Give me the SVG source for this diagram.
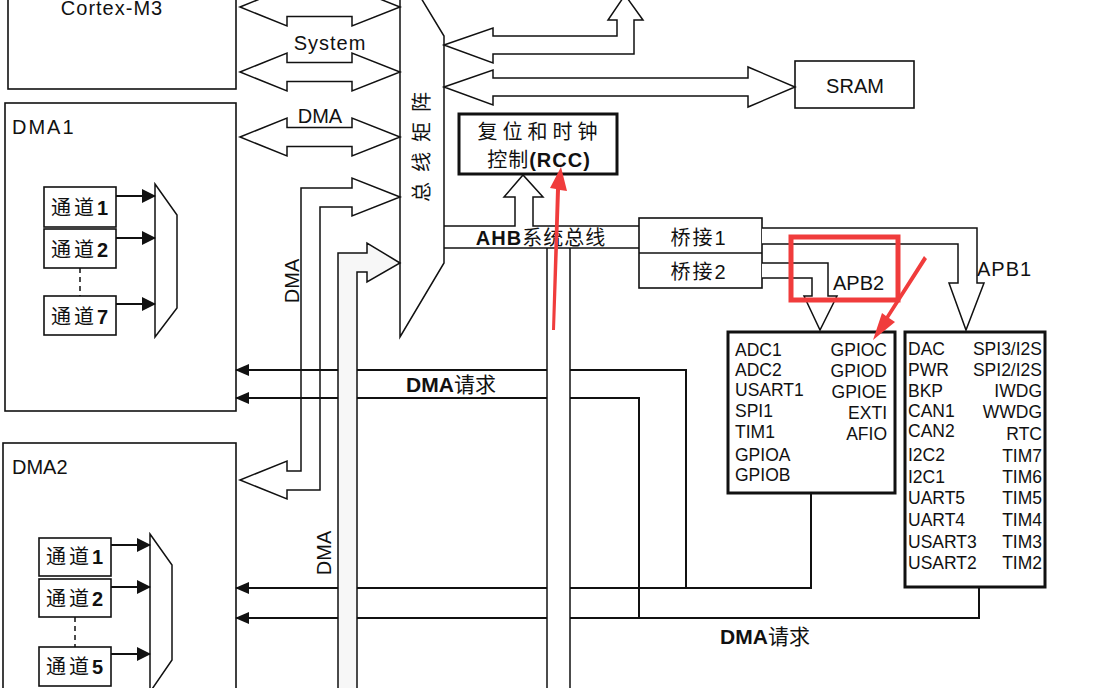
<svg xmlns="http://www.w3.org/2000/svg" width="1115" height="688" viewBox="0 0 1115 688">
<style>
text{font-family:"Liberation Sans","Noto Sans CJK SC",sans-serif;fill:#111}
.t16{font-size:17.5px}
.t17{font-size:20px}
.box{fill:#fff;stroke:#111;stroke-width:1.6}
.thick{fill:#fff;stroke:#111;stroke-width:3}
.w{fill:#fff;stroke:#111;stroke-width:1.5}
.ln{fill:none;stroke:#111;stroke-width:2}
.red{fill:#f03c3c}
</style>
<defs>
<marker id="ah" markerWidth="14" markerHeight="12" refX="13" refY="6" orient="auto" markerUnits="userSpaceOnUse"><path d="M0,0L14,6L0,12Z" fill="#111"/></marker>
<marker id="ch" markerWidth="14" markerHeight="14" refX="13" refY="7" orient="auto" markerUnits="userSpaceOnUse"><path d="M0,0L14,7L0,14Z" fill="#111"/></marker>
</defs>
<rect width="1115" height="688" fill="#fff"/>

<g id="cortex"><rect class="box" x="8" y="-2" width="228" height="91"/><text class="t17" x="112" y="15" text-anchor="middle" letter-spacing="1">Cortex-M3</text></g>

<g id="dma1"><rect class="box" x="5" y="103" width="231" height="308"/><text class="t17" x="12" y="134" letter-spacing="2">DMA1</text>
<rect class="box" x="44" y="187" width="72" height="40"/><text class="t17" x="81" y="215" text-anchor="middle" letter-spacing="3">通道<tspan font-weight="bold">1</tspan></text>
<rect class="box" x="44" y="229" width="72" height="39"/><text class="t17" x="81" y="257" text-anchor="middle" letter-spacing="3">通道<tspan font-weight="bold">2</tspan></text>
<rect class="box" x="44" y="296" width="72" height="39"/><text class="t17" x="81" y="324" text-anchor="middle" letter-spacing="3">通道<tspan font-weight="bold">7</tspan></text>
<line x1="80" y1="268" x2="80" y2="296" stroke="#111" stroke-width="1.5" stroke-dasharray="5,4"/>
<polygon class="w" points="155,184 177,215 177,308 155,337"/>
<line class="ln" x1="116" y1="196" x2="155" y2="196" marker-end="url(#ch)"/>
<line class="ln" x1="116" y1="238" x2="155" y2="238" marker-end="url(#ch)"/>
<line class="ln" x1="116" y1="304" x2="155" y2="304" marker-end="url(#ch)"/>
</g>

<g id="dma2"><rect class="box" x="3" y="443" width="233" height="250" stroke-width="2.5"/><text class="t17" x="12" y="474">DMA2</text>
<rect class="box" x="39" y="538" width="72" height="38"/><text class="t17" x="76" y="564" text-anchor="middle" letter-spacing="3">通道<tspan font-weight="bold">1</tspan></text>
<rect class="box" x="39" y="579" width="72" height="38"/><text class="t17" x="76" y="606" text-anchor="middle" letter-spacing="3">通道<tspan font-weight="bold">2</tspan></text>
<rect class="box" x="39" y="647" width="72" height="39"/><text class="t17" x="76" y="674" text-anchor="middle" letter-spacing="3">通道<tspan font-weight="bold">5</tspan></text>
<line x1="75" y1="617" x2="75" y2="647" stroke="#111" stroke-width="1.5" stroke-dasharray="5,4"/>
<polygon class="w" points="150,534 172,565 172,660 150,692"/>
<line class="ln" x1="111" y1="545" x2="150" y2="545" marker-end="url(#ch)"/>
<line class="ln" x1="111" y1="587" x2="150" y2="587" marker-end="url(#ch)"/>
<line class="ln" x1="111" y1="654" x2="150" y2="654" marker-end="url(#ch)"/>
</g>

<g id="matrix"><polygon class="w" points="400,-2 421,-2 444,36 444,263 400,337"/>
<text class="t17" transform="translate(429,142) rotate(-90)" text-anchor="middle" letter-spacing="10">总线矩阵</text></g>

<g id="rcc"><rect class="thick" x="459" y="114" width="158" height="60"/>
<text class="t17" x="540" y="139" text-anchor="middle" letter-spacing="5">复位和时钟</text>
<text class="t17" x="539" y="167" text-anchor="middle" letter-spacing="1">控制<tspan font-weight="bold">(RCC)</tspan></text></g>

<g id="sram"><rect class="box" x="795" y="61" width="119" height="47"/><text class="t17" x="855" y="93" text-anchor="middle">SRAM</text></g>

<g id="bridge"><rect class="box" x="639" y="218" width="123" height="70"/><line x1="639" y1="253" x2="762" y2="253" stroke="#111" stroke-width="1.6"/>
<text class="t17" x="699" y="245" text-anchor="middle" letter-spacing="2">桥接1</text><text class="t17" x="699" y="279" text-anchor="middle" letter-spacing="2">桥接2</text></g>

<g id="apb2box"><rect class="thick" x="728" y="332" width="167" height="161"/>
<g class="t16"><text x="735" y="356">ADC1</text><text x="735" y="376">ADC2</text><text x="735" y="396">USART1</text><text x="735" y="417">SPI1</text><text x="735" y="438">TIM1</text><text x="735" y="461">GPIOA</text><text x="735" y="481">GPIOB</text>
<g text-anchor="end"><text x="887" y="356">GPIOC</text><text x="887" y="377">GPIOD</text><text x="887" y="398">GPIOE</text><text x="887" y="419">EXTI</text><text x="887" y="440">AFIO</text></g></g></g>

<g id="apb1box"><rect class="thick" x="905" y="332" width="140" height="255"/>
<g class="t16"><text x="908" y="355">DAC</text><text x="908" y="376">PWR</text><text x="908" y="397">BKP</text><text x="908" y="417">CAN1</text><text x="908" y="437">CAN2</text><text x="908" y="461">I2C2</text><text x="908" y="483">I2C1</text><text x="908" y="504">UART5</text><text x="908" y="526">UART4</text><text x="908" y="548">USART3</text><text x="908" y="569">USART2</text>
<g text-anchor="end"><text x="1042" y="355">SPI3/I2S</text><text x="1042" y="376">SPI2/I2S</text><text x="1042" y="397">IWDG</text><text x="1042" y="418">WWDG</text><text x="1042" y="440">RTC</text><text x="1042" y="462">TIM7</text><text x="1042" y="483">TIM6</text><text x="1042" y="504">TIM5</text><text x="1042" y="526">TIM4</text><text x="1042" y="548">TIM3</text><text x="1042" y="569">TIM2</text></g></g></g>

<g id="connectors">
<polygon class="w" points="240,7 287,-12 287,-2.5 352,-2.5 352,-12 400,7 352,26 352,16.5 287,16.5 287,26"/>
<polygon class="w" points="240,72 287,53 287,62.5 352,62.5 352,53 400,72 352,91 352,81.5 287,81.5 287,91"/>
<polygon class="w" points="240,137 287,118 287,127.5 352,127.5 352,118 400,137 352,156 352,146.5 287,146.5 287,156"/>
<text class="t17" x="330" y="50" text-anchor="middle" letter-spacing="1">System</text>
<text class="t17" x="320" y="123" text-anchor="middle">DMA</text>
<polygon class="w" points="400,197 352,178 352,188 301,188 301,471 287,471 287,461 240,480 287,499 287,490 320,490 320,207 352,207 352,216"/>
<text class="t17" transform="translate(299,281) rotate(-90)" text-anchor="middle">DMA</text>
<polygon class="w" points="444,45 493,28 493,36 617,36 617,20 608,20 625,-5 643,20 634,20 634,54 493,54 493,63"/>
<polygon class="w" points="444,87 493,70 493,78 748,78 748,67 795,87 748,107 748,96 493,96 493,105"/>
<polyline class="w" points="444,226 515,226 515,197 504,197 523,175 543,197 533,197 533,226 639,226"/>
<line x1="444" y1="248" x2="639" y2="248" stroke="#111" stroke-width="1.5"/>
<text x="541" y="245" text-anchor="middle" font-size="20" letter-spacing="1"><tspan font-weight="bold">AHB</tspan>系统总线</text>
<polyline class="w" points="762,228 977,228 977,283 984,283 966,330 949,283 958,283 958,244 762,244"/>
<polyline class="w" points="762,263 828,263 828,296 837,296 820,330 804,296 812,296 812,278 762,278"/>
<text class="t17" x="977" y="276" letter-spacing="1">APB1</text>
<text class="t17" x="833" y="290">APB2</text>
<polyline class="ln" points="686,588 686,370 236,370" marker-end="url(#ah)"/>
<polyline class="ln" points="639,618 639,398 236,398" marker-end="url(#ah)"/>
<polyline class="ln" points="811,493 811,588 236,588" marker-end="url(#ah)"/>
<polyline class="ln" points="979,587 979,618 236,618" marker-end="url(#ah)"/>
<text x="451" y="392" text-anchor="middle" font-size="21"><tspan font-weight="bold">DMA</tspan>请求</text>
<text x="765" y="644" text-anchor="middle" font-size="21"><tspan font-weight="bold">DMA</tspan>请求</text>
<polygon points="400,263 367,243 367,253 338,253 338,692 357,692 357,272 367,272 367,282" fill="#f7f7f7" stroke="#111" stroke-width="1.5"/>
<text class="t17" transform="translate(331,553) rotate(-90)" text-anchor="middle">DMA</text>
<rect x="547" y="249" width="23" height="445" fill="#fff"/>
<line x1="547" y1="248" x2="547" y2="692" stroke="#111" stroke-width="1.5"/>
<line x1="570" y1="248" x2="570" y2="692" stroke="#111" stroke-width="1.5"/>
</g>

<g id="annotations">
<rect x="791" y="237" width="107" height="63" fill="none" stroke="#f03c3c" stroke-width="5"/>
<polygon class="red" points="552,330 555,330 560,190 567,191 561,167 550,188 556,189"/>
<polygon class="red" points="924,256 927,259 889,318 895,322 873,340 882,313 886,316"/>
</g>
</svg>
